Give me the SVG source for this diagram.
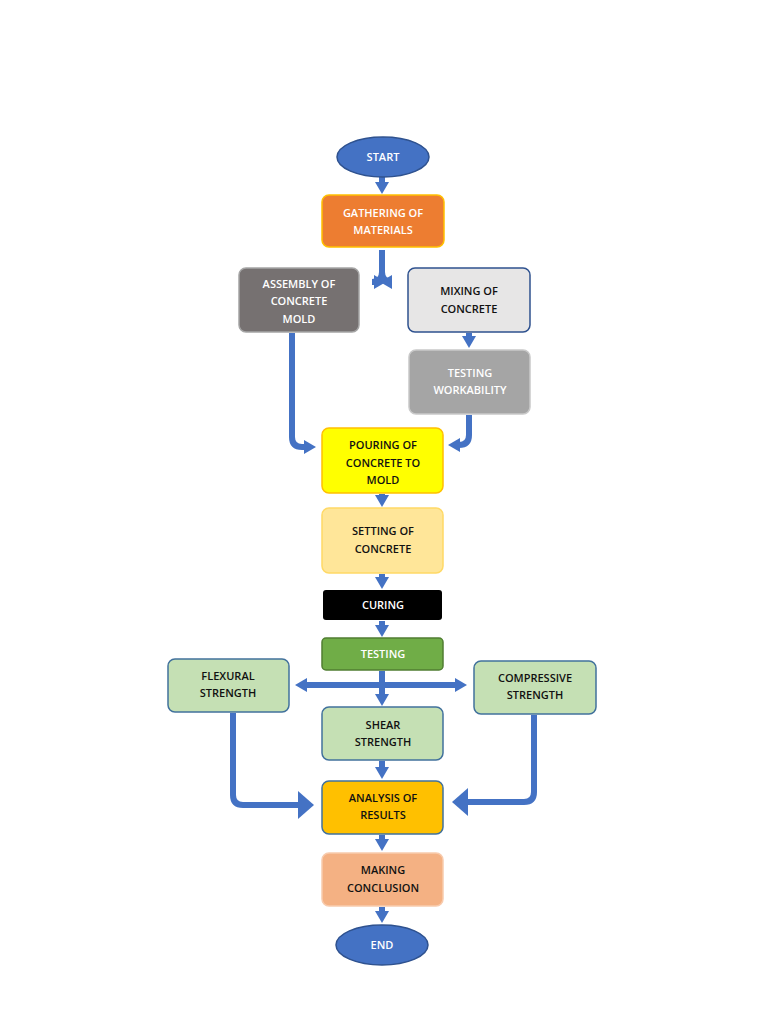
<svg xmlns="http://www.w3.org/2000/svg" width="768" height="1024" viewBox="0 0 768 1024">
<defs>
<style>
text{font-family:"Open Sans","Liberation Sans",sans-serif;font-size:11px;font-weight:600;text-anchor:middle}
.w{fill:#fff}.k{fill:#111}
.c{fill:none;stroke:#4472C4;stroke-width:6}
.n{stroke-width:1.5}
</style>
<marker id="a" markerUnits="userSpaceOnUse" markerWidth="12" markerHeight="16" refX="2" refY="8" orient="auto-start-reverse"><path d="M0,1 L12,8 L0,15 Z" fill="#4472C4"/></marker>
<marker id="b" markerUnits="userSpaceOnUse" markerWidth="16" markerHeight="30" refX="2" refY="15" orient="auto"><path d="M0,1 L16,15 L0,29 Z" fill="#4472C4"/></marker>
</defs>
<rect width="768" height="1024" fill="#fff"/>
<g id="connectors">
<path class="c" d="M382,177 V184" marker-end="url(#a)"/>
<path class="c" d="M382,250 V272 Q382,282 372,282 H376" marker-end="url(#a)"/>
<path class="c" d="M382,272 Q382,282 392,282 H390" marker-end="url(#a)"/>
<path class="c" d="M469,333 V338" marker-end="url(#a)"/>
<path class="c" d="M292,333 V437 Q292,447 302,447 H306" marker-end="url(#a)"/>
<path class="c" d="M469,415 V435 Q469,445 459,445 H458" marker-end="url(#a)"/>
<path class="c" d="M382,494 V497" marker-end="url(#a)"/>
<path class="c" d="M382,574 V579" marker-end="url(#a)"/>
<path class="c" d="M382,621 V627" marker-end="url(#a)"/>
<path class="c" d="M382,671 V696" marker-end="url(#a)"/>
<path class="c" d="M305,685 H457" marker-start="url(#a)" marker-end="url(#a)"/>
<path class="c" d="M382,761 V769" marker-end="url(#a)"/>
<path class="c" d="M233,713 V795 Q233,805 243,805 H300" marker-end="url(#b)"/>
<path class="c" d="M534,715 V792 Q534,802 524,802 H466" marker-end="url(#b)"/>
<path class="c" d="M382,835 V841" marker-end="url(#a)"/>
<path class="c" d="M382,907 V913" marker-end="url(#a)"/>
</g>
<g id="start"><ellipse cx="383" cy="157" rx="46" ry="20" fill="#4472C4" stroke="#2F528F" class="n"/><text class="w" x="383" y="161">START</text></g>
<g id="gather"><rect x="322" y="195" width="122" height="52" rx="7" fill="#ED7D31" stroke="#FFC000" class="n"/><text class="w" x="383" y="217">GATHERING OF</text><text class="w" x="383" y="234">MATERIALS</text></g>
<g id="assembly"><rect x="239" y="268" width="120" height="64" rx="7" fill="#767171" stroke="#A5A5A5" class="n"/><text class="w" x="299" y="288">ASSEMBLY OF</text><text class="w" x="299" y="305">CONCRETE</text><text class="w" x="299" y="323">MOLD</text></g>
<g id="mixing"><rect x="408" y="268" width="122" height="64" rx="7" fill="#E7E6E6" stroke="#2F528F" class="n"/><text class="k" x="469" y="295">MIXING OF</text><text class="k" x="469" y="313">CONCRETE</text></g>
<g id="workability"><rect x="409" y="350" width="121" height="64" rx="7" fill="#A5A5A5" stroke="#C9C9C9" class="n"/><text class="w" x="470" y="377">TESTING</text><text class="w" x="470" y="394">WORKABILITY</text></g>
<g id="pouring"><rect x="322" y="428" width="121" height="65" rx="7" fill="#FFFF00" stroke="#FFC000" class="n"/><text class="k" x="383" y="449">POURING OF</text><text class="k" x="383" y="467">CONCRETE TO</text><text class="k" x="383" y="484">MOLD</text></g>
<g id="setting"><rect x="322" y="508" width="121" height="65" rx="7" fill="#FFE699" stroke="#FFD966" class="n"/><text class="k" x="383" y="535">SETTING OF</text><text class="k" x="383" y="553">CONCRETE</text></g>
<g id="curing"><rect x="323" y="590" width="119" height="30" rx="3" fill="#000"/><text class="w" x="383" y="609">CURING</text></g>
<g id="testing"><rect x="322" y="638" width="121" height="32" rx="4" fill="#70AD47" stroke="#507E32" class="n"/><text class="w" x="383" y="658">TESTING</text></g>
<g id="flexural"><rect x="168" y="659" width="121" height="53" rx="7" fill="#C5E0B4" stroke="#41719C" class="n"/><text class="k" x="228" y="680">FLEXURAL</text><text class="k" x="228" y="697">STRENGTH</text></g>
<g id="compressive"><rect x="474" y="661" width="122" height="53" rx="7" fill="#C5E0B4" stroke="#41719C" class="n"/><text class="k" x="535" y="682">COMPRESSIVE</text><text class="k" x="535" y="699">STRENGTH</text></g>
<g id="shear"><rect x="322" y="707" width="121" height="53" rx="7" fill="#C5E0B4" stroke="#41719C" class="n"/><text class="k" x="383" y="729">SHEAR</text><text class="k" x="383" y="746">STRENGTH</text></g>
<g id="analysis"><rect x="322" y="781" width="121" height="53" rx="7" fill="#FFC000" stroke="#41719C" class="n"/><text class="k" x="383" y="802">ANALYSIS OF</text><text class="k" x="383" y="819">RESULTS</text></g>
<g id="making"><rect x="322" y="853" width="121" height="53" rx="7" fill="#F4B183" stroke="#F8CBAD" class="n"/><text class="k" x="383" y="874">MAKING</text><text class="k" x="383" y="892">CONCLUSION</text></g>
<g id="end"><ellipse cx="382" cy="945" rx="46" ry="20" fill="#4472C4" stroke="#2F528F" class="n"/><text class="w" x="382" y="949">END</text></g>
</svg>
